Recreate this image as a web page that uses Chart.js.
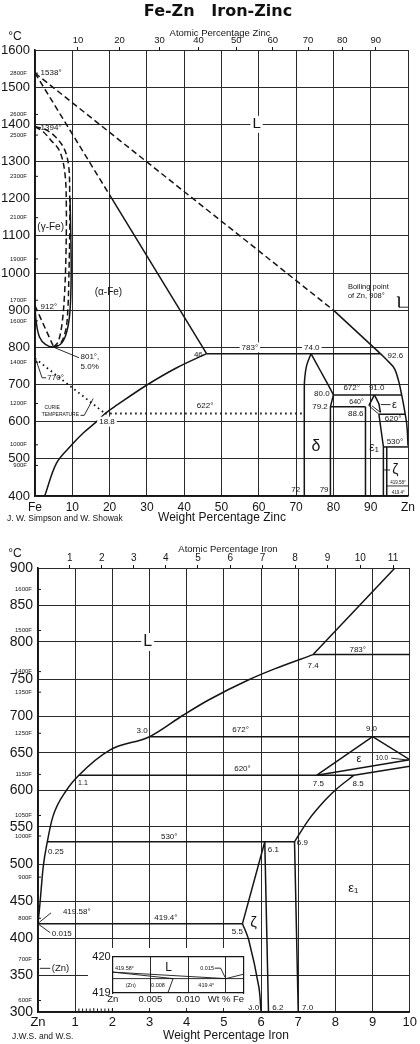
<!DOCTYPE html>
<html>
<head>
<meta charset="utf-8">
<script src="https://cdn.jsdelivr.net/npm/chart.js@4.4.1/dist/chart.umd.min.js"></script>
<style>
  body { margin: 0; background: #fff; width: 420px; height: 1044px; position: relative; overflow: hidden; }
  canvas { position: absolute; left: 0; }
  #title { position: absolute; left: 0; width: 436px; top: 1px; text-align: center; font: bold 16px "DejaVu Sans", sans-serif; color: #111; white-space: pre; z-index: 5; }
</style>
</head>
<body>
<canvas id="topChart" width="420" height="540" style="top:0"></canvas>
<canvas id="botChart" width="420" height="504" style="top:540px"></canvas>
<canvas id="insetChart" width="162" height="60" style="left:88px;top:948px"></canvas>
<div id="title">Fe-Zn   Iron-Zinc</div>
<script>
const FONT = '"Liberation Sans", Arial, sans-serif';
const INK = "#151515";

// ---------- top diagram: weight % Zn vs deg C ----------
const atZnTicks = [10, 20, 30, 40, 50, 60, 70, 80, 90];
const fahrTop = [2800, 2600, 2500, 2300, 2100, 1900, 1700, 1600, 1400, 1200, 1000, 900];

const liqHighDash = [[0, 1538], [80, 900]];
const liqHighSolid = [[80, 900], [92.6, 783]];
const liqZnSide = [[92.6, 783], [94.6, 763], [96.5, 740], [97.6, 705], [98.3, 672], [99.2, 623], [99.8, 578], [100, 535]];
const solDash = [[0, 1538], [20, 1210]];
const solSolid = [[20, 1210], [46, 783]];
const alphaSolvus = [[46, 783], [38, 745], [29.9, 698], [22, 645], [18.8, 622], [16.5, 600], [13, 570], [9.8, 537], [5.8, 489], [2.6, 400]];
const curieLine = [[0, 770], [18.8, 622]];
const line622 = [[18.8, 622], [72.2, 622]];
const line783 = [[46, 783], [92.6, 783]];
const gammaOuter = [[0, 1394], [2.8, 1386], [5.4, 1367], [7.8, 1335], [9.0, 1290], [9.3, 1220], [9.3, 1100], [9.1, 1000], [8.8, 900], [8.2, 845], [6.8, 810], [5, 801]];
const gammaInner = [[0, 1394], [2.2, 1380], [4.2, 1358], [6.6, 1328], [8.0, 1270], [8.4, 1180], [8.3, 1050], [7.9, 940], [7.2, 860], [6.2, 815], [5, 801]];
const gammaSolid = [[0, 912], [0.3, 870], [1.2, 828], [2.8, 808], [5, 801], [7.2, 812], [8.6, 845], [9.4, 900], [9.7, 1000], [9.6, 1100], [9.4, 1200]];
const gammaDiag = [[0, 912], [5, 801]];
const deltaLeft = [[74, 783], [72.8, 750], [72.3, 715], [72.2, 690], [72.2, 400]];
const deltaRightUp = [[74, 783], [76.4, 739], [78.6, 699], [80, 672]];
const deltaRightLow = [[80, 672], [79.2, 640], [79.2, 400]];
const line672 = [[80, 672], [98.3, 672]];
const line640 = [[79.2, 640], [88.6, 640]];
const eps1Left = [[88.6, 640], [88.6, 400]];
const epsLeft = [[91, 672], [89.5, 643]];
const epsBandA = [[89.5, 643], [92.2, 620]];
const epsBandB = [[90.3, 643], [92.6, 625]];
const epsRight = [[91, 672], [92.2, 648], [92.6, 625]];
const line620 = [[92.2, 620], [99.2, 620]];
const eps1Right = [[92.2, 620], [93.4, 533], [93.4, 400]];
const line530 = [[93.4, 532], [100, 532]];
const zetaRight = [[94.3, 532], [94.3, 400]];
const smallBoxA = [[94.3, 427], [100, 427]];
const boilBracket = [[97, 936], [97.6, 936], [97.6, 908], [100, 908]];
const lead801 = [[5.3, 799], [11.8, 772]];
const lead770 = [[0.3, 765], [1.9, 718], [3.0, 718]];
const leadCurie = [[12.2, 617], [13.2, 617], [15.6, 662]];
const leadEps = [[92.7, 646], [95.3, 646]];
const leadZeta = [[93.6, 470], [95.2, 470]];

const topNotes = [
  { t: "1538°", x: 1.5, y: 1538, a: "left" },
  { t: "1394°", x: 1.5, y: 1392, a: "left" },
  { t: "912°", x: 1.5, y: 910, a: "left" },
  { t: "L", x: 59.4, y: 1400, s: 15, bg: true },
  { t: "(γ-Fe)", x: 4.2, y: 1124, s: 10 },
  { t: "(α-Fe)", x: 19.7, y: 947, s: 10 },
  { t: "801°,", x: 12.2, y: 774, a: "left" },
  { t: "5.0%", x: 12.2, y: 747, a: "left" },
  { t: "770°", x: 3.3, y: 717, a: "left" },
  { t: "CURIE", x: 4.6, y: 637, s: 5 },
  { t: "TEMPERATURE", x: 6.8, y: 618, s: 5 },
  { t: "18.8", x: 19.3, y: 600, bg: true },
  { t: "622°", x: 45.6, y: 642 },
  { t: "46", x: 43.8, y: 781 },
  { t: "783°", x: 57.6, y: 800, bg: true },
  { t: "74.0", x: 74.2, y: 800, bg: true },
  { t: "92.6", x: 96.6, y: 778 },
  { t: "80.0", x: 76.9, y: 674 },
  { t: "79.2", x: 76.4, y: 640 },
  { t: "672°", x: 84.9, y: 690 },
  { t: "91.0", x: 91.6, y: 690 },
  { t: "640°", x: 86.2, y: 654, s: 7 },
  { t: "88.6", x: 86, y: 622 },
  { t: "ε", x: 96.4, y: 646, s: 11 },
  { t: "620°", x: 96, y: 607 },
  { t: "530°", x: 96.5, y: 545 },
  { t: "δ", x: 75.3, y: 533, s: 16 },
  { t: "ε₁", x: 90.9, y: 529, s: 12 },
  { t: "ζ", x: 96.6, y: 470, s: 14 },
  { t: "72", x: 69.9, y: 416 },
  { t: "79", x: 77.5, y: 416 },
  { t: "419.58°", x: 97.3, y: 436, s: 4.5 },
  { t: "419.4°", x: 97.4, y: 410, s: 4.5 },
  { t: "Boiling point", x: 83.9, y: 963, s: 7.5, a: "left" },
  { t: "of Zn, 908°", x: 83.9, y: 938, s: 7.5, a: "left" },
];

// ---------- bottom diagram: weight % Fe vs deg C ----------
const atFeTicks = [1, 2, 3, 4, 5, 6, 7, 8, 9, 10, 11];
const fahrBot = [1600, 1500, 1400, 1350, 1250, 1150, 1050, 1000, 900, 800, 700, 600];

const liqLow = [[0, 419.58], [0.05, 445], [0.14, 496], [0.25, 530], [0.4, 564], [0.77, 600], [1.1, 620], [1.93, 654], [3.0, 672], [3.9, 701], [4.6, 722], [5.67, 749], [6.38, 764], [7.4, 783]];
const liqUp = [[7.4, 783], [9.6, 900]];
const b783 = [[7.4, 783], [10, 783]];
const b672 = [[3.0, 672], [10, 672]];
const epsTri = [[7.5, 620], [9.0, 672], [10, 641]];
const epsBase = [[7.5, 620], [10, 641]];
const eps85 = [[8.5, 620], [10, 632]];
const b620 = [[1.1, 620], [8.5, 620]];
const eps1Curve = [[6.9, 530], [7.27, 559], [7.72, 586], [8.0, 600], [8.5, 620]];
const b530 = [[0.25, 530], [6.9, 530]];
const zetaLeft = [[6.1, 530], [5.5, 419.4]];
const zetaLow = [[5.5, 419.4], [5.67, 397], [5.94, 334], [6.0, 300]];
const line62 = [[6.1, 530], [6.2, 300]];
const line70 = [[6.9, 530], [7.0, 300]];
const b419 = [[0.015, 419.4], [5.5, 419.4]];
const lead41958 = [[0.03, 421], [0.35, 434]];
const lead0015 = [[0.03, 418], [0.33, 407]];
const arrowZn = [[0.05, 359], [0.33, 359]];
const arrow100 = [[9.5, 643], [9.95, 640.5]];

const botNotes = [
  { t: "L", x: 2.95, y: 800, s: 16, bg: true },
  { t: "783°", x: 8.6, y: 790 },
  { t: "7.4", x: 7.4, y: 768 },
  { t: "3.0", x: 2.8, y: 680 },
  { t: "672°", x: 5.45, y: 681 },
  { t: "9.0", x: 8.97, y: 683 },
  { t: "ε", x: 8.63, y: 642, s: 11 },
  { t: "10.0", x: 9.25, y: 643, s: 6.5 },
  { t: "620°", x: 5.5, y: 628 },
  { t: "7.5", x: 7.54, y: 609 },
  { t: "8.5", x: 8.61, y: 609 },
  { t: "1.1", x: 1.21, y: 609, s: 7 },
  { t: "530°", x: 3.53, y: 537 },
  { t: "0.25", x: 0.27, y: 517, a: "left" },
  { t: "6.1", x: 6.33, y: 519 },
  { t: "6.9", x: 7.11, y: 528 },
  { t: "ε₁", x: 8.48, y: 467, s: 13 },
  { t: "ζ", x: 5.8, y: 420, s: 15 },
  { t: "5.5", x: 5.36, y: 408 },
  { t: "419.4°", x: 3.44, y: 427 },
  { t: "419.58°", x: 0.67, y: 435, a: "left" },
  { t: "0.015", x: 0.37, y: 406, a: "left" },
  { t: "(Zn)", x: 0.37, y: 359, s: 9.5, a: "left" },
  { t: "6.0", x: 5.8, y: 306 },
  { t: "6.2", x: 6.45, y: 306 },
  { t: "7.0", x: 7.25, y: 306 },
];

// ---------- inset: 419-420 deg C near pure Zn ----------
const insetTicks = [0, 0.005, 0.01, 0.015];
const insetTickLabels = ["Zn", "0.005", "0.010", "Wt % Fe"];
const insLiq = [[0, 419.58], [0.015, 419.4], [0.0173, 419.52]];
const insSol = [[0, 419.58], [0.008, 419.4]];
const ins4194 = [[0, 419.4], [0.0173, 419.4]];
const insSolvus = [[0.008, 419.4], [0.0073, 419]];
const insLead = [[0.0135, 419.69], [0.0143, 419.69], [0.0149, 419.43]];
const insetNotes = [
  { t: "419.58°", x: 0.0003, y: 419.69, s: 5.5, a: "left" },
  { t: "L", x: 0.0074, y: 419.69, s: 12 },
  { t: "0.015", x: 0.0116, y: 419.69, s: 5.5, a: "left" },
  { t: "(Zn)", x: 0.0024, y: 419.22, s: 5.5 },
  { t: "0.008", x: 0.006, y: 419.22, s: 5.5 },
  { t: "419.4°", x: 0.0124, y: 419.22, s: 5.5 },
];

// atomic % -> weight % conversion for the secondary axes
const M_FE = 55.845, M_ZN = 65.38;
const atZnToWt = (a) => (100 * a * M_ZN) / (a * M_ZN + (100 - a) * M_FE);
const atFeToWt = (a) => (100 * a * M_FE) / (a * M_FE + (100 - a) * M_ZN);

function seg(arr, style) {
  const d = {
    data: arr.map((p) => ({ x: p[0], y: p[1] })),
    showLine: true, borderColor: INK, borderWidth: 1.5,
    pointRadius: 0, pointHoverRadius: 0, tension: 0, fill: false,
  };
  style = style || "";
  if (style.includes("dash")) d.borderDash = [6, 3.5];
  if (style.includes("dot")) { d.borderDash = [1.6, 3.4]; d.borderWidth = 1.8; }
  if (style.includes("curve")) d.tension = 0.35;
  if (style.includes("mono")) d.cubicInterpolationMode = "monotone";
  if (style.includes("thin")) d.borderWidth = 0.9;
  return d;
}

const notesPlugin = {
  id: "notes",
  beforeDraw(chart) {
    const c = chart.ctx;
    c.save();
    c.fillStyle = "#fff";
    c.fillRect(0, 0, chart.width, chart.height);
    c.restore();
  },
  afterDatasetsDraw(chart, args, o) {
    const ctx = chart.ctx, xs = chart.scales.x, ys = chart.scales.y, ca = chart.chartArea;
    ctx.save();
    ctx.fillStyle = INK;
    ctx.strokeStyle = INK;
    ctx.textBaseline = "middle";
    (o.fahr || []).forEach((f) => {
      const py = ys.getPixelForValue((f - 32) / 1.8);
      ctx.font = "6px " + FONT;
      ctx.textAlign = "right";
      ctx.fillText(f + "F", ca.left - o.fGap, py);
      ctx.lineWidth = 1;
      ctx.beginPath();
      ctx.moveTo(ca.left, py);
      ctx.lineTo(ca.left + 3, py);
      ctx.stroke();
    });
    if (o.ruler) {
      for (let i = 1; i <= 10; i++) {
        const px = xs.getPixelForValue(1 + i / 10);
        ctx.lineWidth = 1;
        ctx.beginPath();
        ctx.moveTo(px, ca.bottom);
        ctx.lineTo(px, ca.bottom - (i === 5 ? 6 : 3.5));
        ctx.stroke();
      }
    }
    (o.notes || []).forEach((n) => {
      const px = xs.getPixelForValue(n.x), py = ys.getPixelForValue(n.y);
      ctx.font = (n.s || 8) + "px " + FONT;
      ctx.textAlign = n.a || "center";
      if (n.bg) {
        const w = ctx.measureText(n.t).width + 4, h = (n.s || 8) + 2;
        const left = n.a === "left" ? px - 2 : px - w / 2;
        ctx.fillStyle = "#fff";
        ctx.fillRect(left, py - h / 2, w, h);
        ctx.fillStyle = INK;
      }
      ctx.fillText(n.t, px, py);
    });
    (o.texts || []).forEach((n) => {
      ctx.font = (n.b ? "bold " : "") + n.s + "px " + FONT;
      ctx.textAlign = n.a || "center";
      ctx.fillText(n.t, n.px, n.py);
    });
    ctx.restore();
  },
};

const gridStyle = { color: "#2a2a2a", lineWidth: 1, drawTicks: false };
const borderStyle = { color: INK, width: 1.6 };
const plain = (v) => String(v);

// ---------- top chart ----------
new Chart(document.getElementById("topChart"), {
  type: "scatter",
  data: {
    datasets: [
      seg(liqHighDash, "dash"), seg(liqHighSolid), seg(liqZnSide, "mono"),
      seg(solDash, "dash"), seg(solSolid), seg(alphaSolvus, "curve"),
      seg(curieLine, "dot"), seg(line622, "dot"), seg(line783),
      seg(gammaOuter, "dash curve"), seg(gammaInner, "dash curve"), seg(gammaSolid, "curve"), seg(gammaDiag, "dash"),
      seg(deltaLeft, "curve"), seg(deltaRightUp, "curve"), seg(deltaRightLow),
      seg(line672), seg(line640), seg(eps1Left),
      seg(epsLeft), seg(epsBandA, "thin"), seg(epsBandB, "thin"), seg(epsRight),
      seg(line620), seg(eps1Right), seg(line530), seg(zetaRight), seg(smallBoxA, "thin"),
      seg(boilBracket, "thin"), seg(lead801, "thin"), seg(lead770, "thin"), seg(leadCurie, "thin"),
      seg(leadEps, "thin"), seg(leadZeta, "thin"),
    ],
  },
  options: {
    responsive: false, animation: false, devicePixelRatio: 1, events: [],
    layout: { padding: { left: 0, right: 12, top: 0, bottom: 0 } },
    scales: {
      x: {
        type: "linear", position: "bottom", min: 0, max: 100,
        ticks: { stepSize: 10, autoSkip: false, maxRotation: 0, padding: 4, color: INK, font: { family: FONT, size: 12 },
          callback: (v) => (v === 0 ? "Fe" : v === 100 ? "Zn" : String(v)) },
        grid: gridStyle, border: borderStyle,
        afterFit: (s) => { s.height = 44; },
      },
      xTop: {
        type: "linear", axis: "x", position: "top", min: 0, max: 100,
        afterBuildTicks: (s) => { s.ticks = atZnTicks.map((a) => ({ value: atZnToWt(a) })); },
        ticks: { autoSkip: false, maxRotation: 0, padding: 1, color: INK, font: { family: FONT, size: 9.5 },
          callback: (v, i) => String(atZnTicks[i]) },
        grid: { drawOnChartArea: false, tickLength: 3, color: INK },
        border: { display: false },
        afterFit: (s) => { s.height = 50; },
      },
      y: {
        type: "linear", position: "left", min: 400, max: 1600,
        ticks: { stepSize: 100, padding: 5, color: INK, font: { family: FONT, size: 13 }, callback: plain },
        grid: gridStyle, border: borderStyle,
        afterFit: (s) => { s.width = 35; },
      },
    },
    plugins: {
      legend: { display: false }, tooltip: { enabled: false },
      notes: {
        fahr: fahrTop, fGap: 8, notes: topNotes,
        texts: [
          { t: "Atomic Percentage Zinc", px: 220, py: 33, s: 9.5 },
          { t: "Weight Percentage Zinc", px: 222, py: 518, s: 12 },
          { t: "J. W. Simpson and W. Showak", px: 7, py: 519, s: 8.5, a: "left" },
          { t: "°C", px: 15, py: 37, s: 12 },
        ],
      },
    },
  },
  plugins: [notesPlugin],
});

// ---------- bottom chart ----------
new Chart(document.getElementById("botChart"), {
  type: "scatter",
  data: {
    datasets: [
      seg(liqLow, "mono"), seg(liqUp), seg(b783), seg(b672),
      seg(epsTri), seg(epsBase), seg(eps85), seg(b620), seg(eps1Curve, "mono"),
      seg(b530), seg(zetaLeft), seg(zetaLow, "curve"), seg(line62), seg(line70), seg(b419),
      seg(lead41958, "thin"), seg(lead0015, "thin"), seg(arrowZn, "thin"), seg(arrow100, "thin"),
    ],
  },
  options: {
    responsive: false, animation: false, devicePixelRatio: 1, events: [],
    layout: { padding: { left: 0, right: 8, top: 0, bottom: 0 } },
    scales: {
      x: {
        type: "linear", position: "bottom", min: 0, max: 10,
        ticks: { stepSize: 1, autoSkip: false, maxRotation: 0, padding: 3, color: INK, font: { family: FONT, size: 13 },
          callback: (v) => (v === 0 ? "Zn" : String(v)) },
        grid: gridStyle, border: borderStyle,
        afterFit: (s) => { s.height = 32; },
      },
      xTop: {
        type: "linear", axis: "x", position: "top", min: 0, max: 10,
        afterBuildTicks: (s) => { s.ticks = atFeTicks.map((a) => ({ value: atFeToWt(a) })); },
        ticks: { autoSkip: false, maxRotation: 0, padding: 1, color: INK, font: { family: FONT, size: 10 },
          callback: (v, i) => String(atFeTicks[i]) },
        grid: { drawOnChartArea: false, tickLength: 3, color: INK },
        border: { display: false },
        afterFit: (s) => { s.height = 28; },
      },
      y: {
        type: "linear", position: "left", min: 300, max: 900,
        ticks: { stepSize: 50, padding: 5, color: INK, font: { family: FONT, size: 14 }, callback: plain },
        grid: gridStyle, border: borderStyle,
        afterFit: (s) => { s.width = 38; },
      },
    },
    plugins: {
      legend: { display: false }, tooltip: { enabled: false },
      notes: {
        fahr: fahrBot, fGap: 6, notes: botNotes, ruler: true,
        texts: [
          { t: "Atomic Percentage Iron", px: 228, py: 9, s: 9.5 },
          { t: "Weight Percentage Iron", px: 226, py: 496, s: 12 },
          { t: "J.W.S. and W.S.", px: 12, py: 497, s: 8.5, a: "left" },
          { t: "°C", px: 15, py: 14, s: 12 },
        ],
      },
    },
  },
  plugins: [notesPlugin],
});

// ---------- inset chart ----------
new Chart(document.getElementById("insetChart"), {
  type: "scatter",
  data: {
    datasets: [seg(insLiq, "thin"), seg(insSol, "thin"), seg(ins4194, "thin"), seg(insSolvus, "thin"), seg(insLead, "thin")],
  },
  options: {
    responsive: false, animation: false, devicePixelRatio: 1, events: [],
    layout: { padding: { left: 0, right: 6.7, top: 9, bottom: 0 } },
    scales: {
      x: {
        type: "linear", position: "bottom", min: 0, max: 0.0173,
        afterBuildTicks: (s) => { s.ticks = insetTicks.map((v) => ({ value: v })); },
        ticks: { autoSkip: false, maxRotation: 0, padding: 1, color: INK, font: { family: FONT, size: 9.5 },
          callback: (v, i) => insetTickLabels[i] },
        grid: gridStyle, border: { color: INK, width: 1.2 },
        afterFit: (s) => { s.height = 15; },
      },
      y: {
        type: "linear", position: "left", min: 419, max: 420,
        afterBuildTicks: (s) => { s.ticks = [{ value: 419 }, { value: 420 }]; },
        ticks: { padding: 2, color: INK, font: { family: FONT, size: 11 }, callback: plain },
        grid: { display: false, drawTicks: false }, border: { color: INK, width: 1.2 },
        afterFit: (s) => { s.width = 24.7; },
      },
      yR: {
        type: "linear", axis: "y", position: "right", min: 419, max: 420,
        ticks: { display: false }, grid: { display: false, drawTicks: false }, border: { color: INK, width: 1.2 },
        afterFit: (s) => { s.width = 0; },
      },
      xT: {
        type: "linear", axis: "x", position: "top", min: 0, max: 0.0173,
        ticks: { display: false }, grid: { display: false, drawTicks: false }, border: { color: INK, width: 1.2 },
        afterFit: (s) => { s.height = 0; },
      },
    },
    plugins: { legend: { display: false }, tooltip: { enabled: false }, notes: { notes: insetNotes } },
  },
  plugins: [notesPlugin],
});
</script>
</body>
</html>
